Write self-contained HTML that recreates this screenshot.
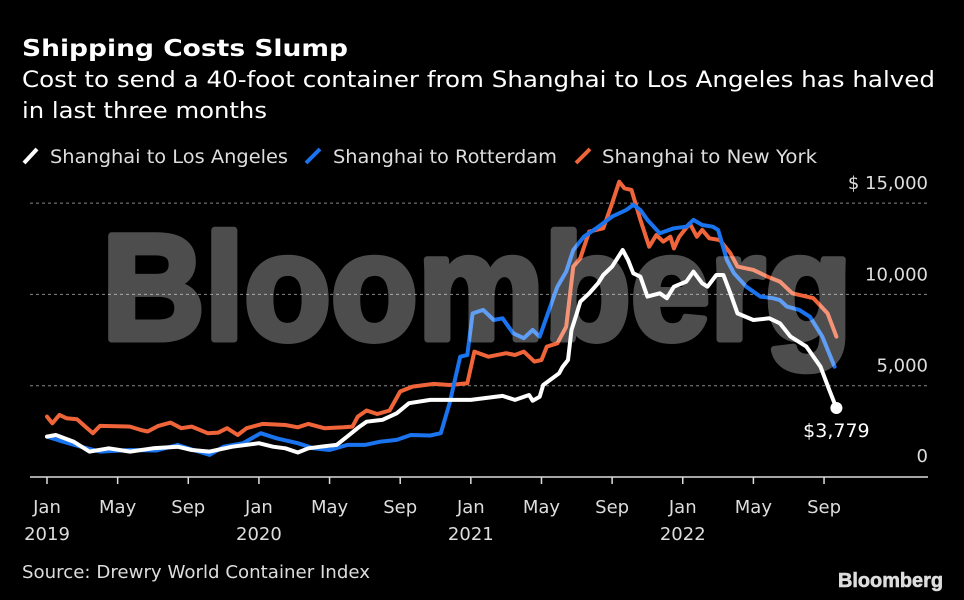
<!DOCTYPE html>
<html><head><meta charset="utf-8"><style>
html,body{margin:0;padding:0;background:#000;}
svg{display:block;}
text{font-family:"DejaVu Sans","Liberation Sans",sans-serif;}
</style></head><body>
<svg id="chart" width="964" height="600" viewBox="0 0 964 600">
<rect width="964" height="600" fill="#000"/>
<text x="22" y="56" font-size="23" font-weight="bold" fill="#fff" textLength="326" lengthAdjust="spacingAndGlyphs">Shipping Costs Slump</text>
<text x="22" y="87" font-size="22" fill="#fff" textLength="913" lengthAdjust="spacingAndGlyphs">Cost to send a 40-foot container from Shanghai to Los Angeles has halved</text>
<text x="22" y="118" font-size="22" fill="#fff" textLength="245" lengthAdjust="spacingAndGlyphs">in last three months</text>
<g>
<g><line x1="24" y1="163" x2="37" y2="149" stroke="#fff" stroke-width="4"/><text x="50" y="163" font-size="19" fill="#ddd" textLength="238" lengthAdjust="spacingAndGlyphs">Shanghai to Los Angeles</text></g>
<g><line x1="306" y1="163" x2="320" y2="149" stroke="#1a74f0" stroke-width="4"/><text x="333" y="163" font-size="19" fill="#ddd" textLength="224" lengthAdjust="spacingAndGlyphs">Shanghai to Rotterdam</text></g>
<g><line x1="576" y1="163" x2="590" y2="149" stroke="#f0643a" stroke-width="4"/><text x="602" y="163" font-size="19" fill="#ddd" textLength="215" lengthAdjust="spacingAndGlyphs">Shanghai to New York</text></g>
</g>
<g id="grid"></g>
<g id="xaxis"></g>
<g id="series"></g>
<g opacity="0.3">
<text x="102" y="339" style="font-family:'Liberation Sans',sans-serif;font-weight:bold;font-size:150px" fill="#fff" stroke="#fff" stroke-width="7" stroke-linejoin="round" textLength="750" lengthAdjust="spacingAndGlyphs">Bloomberg</text>
</g>
<g id="endpoint"></g>
<text x="22" y="578" font-size="18" fill="#ddd" textLength="348" lengthAdjust="spacingAndGlyphs">Source: Drewry World Container Index</text>
<text x="838" y="587" style="font-family:'Liberation Sans',sans-serif;font-weight:bold;font-size:20px" fill="#ddd" stroke="#ddd" stroke-width="0.6" textLength="105" lengthAdjust="spacingAndGlyphs">Bloomberg</text>
</svg>
<script>
// months since Jan 2019
const laMonths=[0,0.5,1.5,2.4,3.5,4.7,6,7.4,8.2,9.2,10.5,12,12.8,13.5,14.2,14.8,15.5,16.4,17,17.7,18.1,19,19.8,20.5,21.7,24,25.8,26.5,27.3,27.5,27.9,28.1,29,29.2,29.5,29.7,30,30.2,30.7,31.2,31.5,32,32.6,32.9,33.2,33.6,34,34.7,35.1,35.5,36.2,36.6,37.1,37.4,37.9,38.3,38.7,39.1,40,40.9,41.5,42.1,43,43.8,44.3,44.7];
const laValues=[2210,2300,1940,1390,1570,1390,1570,1660,1480,1390,1660,1850,1660,1570,1340,1570,1660,1760,2210,2760,3030,3130,3490,4040,4220,4220,4440,4220,4490,4180,4400,5040,5680,6040,6410,8050,8960,9600,10060,10610,11060,11520,12430,11890,11155,10970,9880,10060,9790,10420,10700,11250,10610,10420,11060,11060,10060,8960,8600,8690,8420,7690,7140,6040,4770,3779];
const rtMonths=[0,0.9,1.9,3,4.7,6.2,7.4,8.3,9.2,10,11.1,12.1,13,14.2,15.1,16,17,18,18.9,19.8,20.6,21.7,22.3,22.8,23.4,23.8,24.1,24.7,25.3,25.8,26.4,27,27.5,27.9,28.5,28.9,29.4,29.8,30.4,31.1,32,32.8,33.2,33.6,34,34.7,35.5,36.2,36.6,37.1,37.7,38,38.5,38.9,39.6,40.4,41.1,41.5,41.9,42.6,43.2,43.9,44.6];
const rtValues=[2210,1940,1660,1390,1480,1450,1760,1480,1210,1660,1850,2400,2120,1850,1570,1480,1760,1760,1940,2030,2300,2270,2400,4040,6590,6680,8960,9150,8600,8690,7870,7600,8050,7690,9330,10420,11250,12430,13160,13620,14260,14620,14900,14620,14080,13345,13620,13710,14080,13800,13710,13530,11890,11155,10420,9880,9790,9690,9330,9150,8780,7690,6040];
const nyMonths=[0,0.3,0.7,1.1,1.7,2.6,3,4.7,5.3,5.7,6.3,7,7.6,8.2,9.1,9.7,10.2,10.8,11.3,12.2,13.5,14.2,14.8,15.7,16.8,17.3,17.6,18.1,18.7,19.4,20,20.7,21.9,22.8,23.8,24.2,25,26,26.5,27,27.6,28,28.3,28.9,29.4,29.8,30.2,30.7,31.5,32,32.4,32.7,33.1,33.6,34.1,34.5,34.9,35.3,35.5,35.8,36.4,36.8,37.1,37.5,38.1,38.7,39.1,40,40.8,41.5,42.2,43.4,44.2,44.7];
const nyValues=[3310,2940,3400,3220,3160,2400,2800,2760,2580,2490,2800,2980,2670,2760,2400,2430,2670,2300,2670,2910,2850,2720,2910,2670,2720,2760,3310,3640,3450,3640,4680,4950,5100,5040,5130,6870,6590,6780,6680,6870,6320,6410,7140,7320,8230,11520,11980,13440,13620,14990,16170,15810,15720,14080,12610,13250,12890,13160,12520,13160,13890,13160,13530,13070,12980,12250,11520,11340,10970,10700,10060,9790,8960,7690];
const yTicks=[0,5000,10000,15000];
const yTickLabels=["0","5,000","10,000","$ 15,000"];
const xTickMonths=[0,4,8,12,16,20,24,28,32,36,40,44];
const xTickLabels=["Jan","May","Sep","Jan","May","Sep","Jan","May","Sep","Jan","May","Sep"];
const xYearLabels=["2019","","","2020","","","2021","","","2022","",""];
const endLabel="$3,779";

const NS="http://www.w3.org/2000/svg";
const X=m=>47+m*17.66;
const Y=v=>477-v*(91.3/5000);
function mk(tag,attrs,parent){const e=document.createElementNS(NS,tag);for(const k in attrs)e.setAttribute(k,attrs[k]);parent.appendChild(e);return e;}
const grid=document.getElementById('grid');
yTicks.forEach((v,i)=>{
  if(v>0){const l=mk('line',{x1:30,x2:928,y1:Y(v),y2:Y(v),stroke:'#888','stroke-width':1,'stroke-dasharray':'3,3'},grid);
  
  }
  const t=mk('text',{x:928,y:Y(v)-14-(v===0?1:0),'text-anchor':'end','font-size':18,fill:'#ddd'},grid);
  t.textContent=yTickLabels[i];
  
  
});
const xa=document.getElementById('xaxis');
const axis=mk('line',{x1:30,x2:928,y1:477,y2:477,stroke:'#ddd','stroke-width':1.5},xa);


xTickMonths.forEach((m,i)=>{
  const tk=mk('line',{x1:X(m),x2:X(m),y1:477,y2:484,stroke:'#ddd','stroke-width':1.5},xa);
  
  
  const t=mk('text',{x:X(m),y:513,'text-anchor':'middle','font-size':18,fill:'#ddd'},xa);
  t.textContent=xTickLabels[i];
  
  
  if(xYearLabels[i]){const y=mk('text',{x:X(m),y:540,'text-anchor':'middle','font-size':18,fill:'#ddd'},xa);
  y.textContent=xYearLabels[i];
  
  }
});
const sg=document.getElementById('series');
function draw(ms,vs,color,name){
  const d=ms.map((m,i)=>(i?'L':'M')+X(m).toFixed(1)+','+Y(vs[i]).toFixed(1)).join(' ');
  const p=mk('path',{d:d,fill:'none',stroke:color,'stroke-width':4,'stroke-linejoin':'round','stroke-linecap':'round'},sg);
  
  
}
draw(nyMonths,nyValues,'#f0643a','line-new-york');
draw(rtMonths,rtValues,'#1a74f0','line-rotterdam');
draw(laMonths,laValues,'#ffffff','line-los-angeles');
const ep=document.getElementById('endpoint');
const li=laMonths.length-1;
const dot=mk('circle',{cx:X(laMonths[li]),cy:Y(laValues[li]),r:6,fill:'#fff'},ep);


const el=mk('text',{x:X(laMonths[li]),y:437,'text-anchor':'middle','font-size':19,fill:'#fff'},ep);
el.textContent=endLabel;


</script>
</body></html>
